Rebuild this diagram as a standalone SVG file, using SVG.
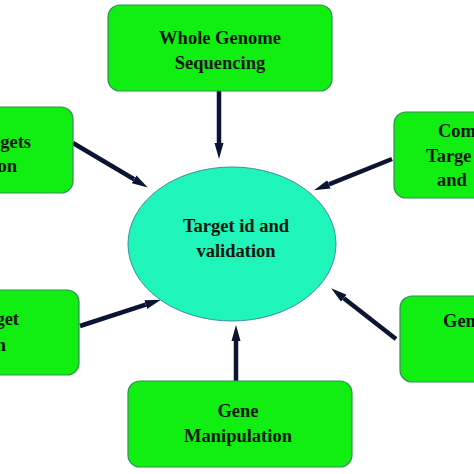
<svg xmlns="http://www.w3.org/2000/svg" width="474" height="474" viewBox="0 0 474 474">
<style>
.box{fill:#11ee11;stroke:#2f8f55;stroke-width:1.2}
.ell{fill:#1ff5b8;stroke:#3c8fa0;stroke-width:1}
.t{font-family:"Liberation Serif","Times New Roman",serif;font-weight:bold;font-size:18.5px;fill:#0c160c}
.c{text-anchor:middle}
.e{text-anchor:end}
.arr{stroke:#0b1433;stroke-width:4.5;fill:none;marker-end:url(#ah)}
</style>
<defs>
<marker id="ah" markerUnits="userSpaceOnUse" markerWidth="16" markerHeight="10" refX="0" refY="5" orient="auto">
<path d="M0,0.5 L16,5 L0,9.5 Z" fill="#0b1433"/>
</marker>
</defs>
<rect width="474" height="474" fill="#ffffff"/>
<g id="connectors">
<line class="arr" x1="219" y1="91" x2="219" y2="143"/>
<line class="arr" x1="73" y1="143" x2="134.1" y2="179.3"/>
<line class="arr" x1="392" y1="159" x2="328.9" y2="184.4"/>
<line class="arr" x1="80" y1="326" x2="145.7" y2="304.6"/>
<line class="arr" x1="236" y1="381" x2="236" y2="341"/>
<line class="arr" x1="396" y1="339" x2="343.8" y2="298.2"/>
</g>
<g id="center">
<ellipse class="ell" cx="232" cy="244" rx="104" ry="77"/>
<text class="t c" x="236" y="232">Target id and</text>
<text class="t c" x="236" y="257">validation</text>
</g>
<g id="wgs">
<rect class="box" x="108" y="5" width="224" height="86" rx="12"/>
<text class="t c" x="220" y="44">Whole Genome</text>
<text class="t c" x="220" y="69">Sequencing</text>
</g>
<g id="left-top">
<rect class="box" x="-20" y="107" width="93" height="86" rx="12"/>
<text class="t e" x="31" y="148">gets</text>
<text class="t e" x="17" y="172">on</text>
</g>
<g id="left-bottom">
<rect class="box" x="-20" y="290" width="99" height="85" rx="12"/>
<text class="t e" x="19" y="325">get</text>
<text class="t e" x="6" y="351">n</text>
</g>
<g id="right-top">
<rect class="box" x="394" y="112" width="100" height="86" rx="12"/>
<text class="t" x="438" y="137">Com</text>
<text class="t" x="426" y="162">Targe</text>
<text class="t" x="437" y="186">and</text>
</g>
<g id="right-bottom">
<rect class="box" x="400" y="296" width="100" height="86" rx="12"/>
<text class="t" x="443" y="327">Gen</text>
</g>
<g id="gene-manipulation">
<rect class="box" x="128" y="381" width="224" height="86" rx="12"/>
<text class="t c" x="238" y="417">Gene</text>
<text class="t c" x="238" y="442">Manipulation</text>
</g>
</svg>
